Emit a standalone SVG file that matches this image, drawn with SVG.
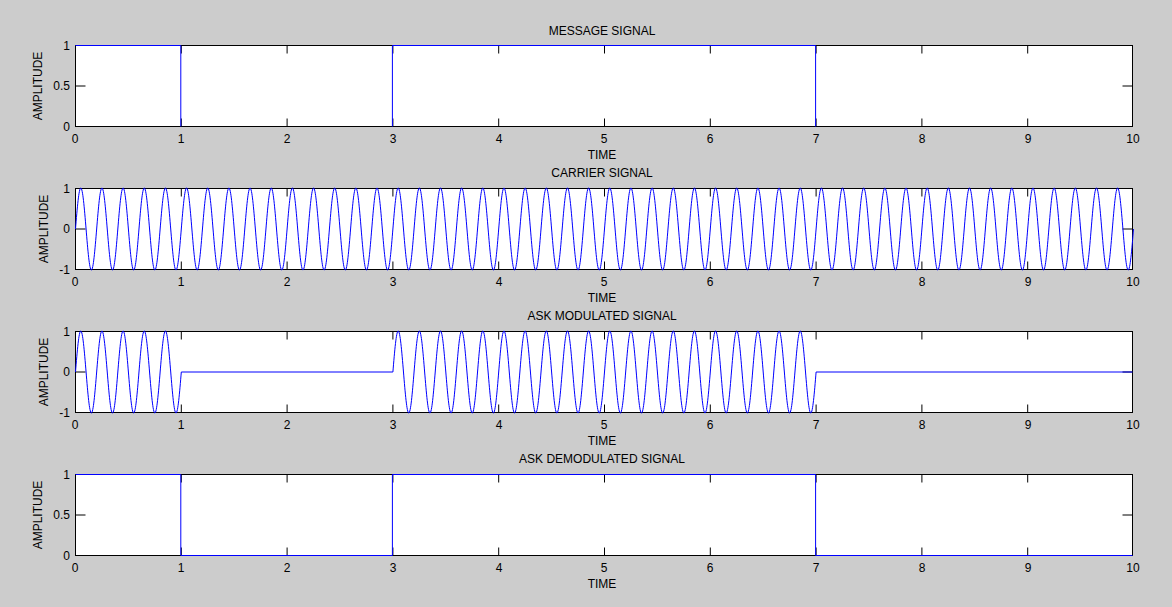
<svg xmlns="http://www.w3.org/2000/svg" xmlns:xlink="http://www.w3.org/1999/xlink" width="1172" height="607" viewBox="0 0 1172 607">
<style>
text{font-family:"Liberation Sans",Arial,sans-serif;font-size:12px;fill:#000}
.t{text-anchor:middle}
.yl{text-anchor:end}
.box{fill:#fff;stroke:#000;stroke-width:1}
.tk{stroke:#000;stroke-width:1;fill:none}
.sig{stroke:#00f;stroke-width:1;fill:none}
</style>
<defs>
<path id="cyc" d="M0,0 c1.725,-21 3.376,-41 5.29,-41 c1.914,0 3.565,20 5.29,41 c1.725,21 3.376,41 5.29,41 c1.914,0 3.565,-20 5.29,-41"/>
<g id="c5"><use xlink:href="#cyc"/><use xlink:href="#cyc" x="21.16"/><use xlink:href="#cyc" x="42.32"/><use xlink:href="#cyc" x="63.48"/><use xlink:href="#cyc" x="84.64"/></g>
<path id="xt" d="M75.5,0v-8M181.3,0v-8M287.1,0v-8M392.9,0v-8M498.7,0v-8M604.5,0v-8M710.3,0v-8M816.1,0v-8M921.9,0v-8M1027.7,0v-8M1132.5,0v-8"/>
<g id="xl"><text x="75" class="t">0</text><text x="181" class="t">1</text><text x="287" class="t">2</text><text x="393" class="t">3</text><text x="499" class="t">4</text><text x="604" class="t">5</text><text x="710" class="t">6</text><text x="816" class="t">7</text><text x="922" class="t">8</text><text x="1028" class="t">9</text><text x="1133" class="t">10</text></g>
</defs>
<rect width="1172" height="607" fill="#cccccc"/>

<g id="plot1">
<rect class="box" x="75.5" y="45.5" width="1057" height="81"/>
<g class="tk"><use xlink:href="#xt" y="126.5"/><use xlink:href="#xt" transform="translate(0,45.5) scale(1,-1)"/>
<path d="M75.5,45.5h10M75.5,86h10M75.5,126.5h10M1132.5,45.5h-10M1132.5,86h-10M1132.5,126.5h-10"/></g>
<path class="sig" d="M75.5,45.5H180.8V126.5M392.4,126.5V45.5H815.6V126.5"/>
<use xlink:href="#xl" y="143"/>
<text x="70" y="50" class="yl">1</text><text x="70" y="90" class="yl">0.5</text><text x="70" y="131" class="yl">0</text>
<text x="602" y="35" class="t">MESSAGE SIGNAL</text>
<text x="602" y="159" class="t">TIME</text>
<text transform="translate(42,86) rotate(-90)" class="t">AMPLITUDE</text>
</g>

<g id="plot2">
<rect class="box" x="75.5" y="188.5" width="1057" height="81"/>
<g class="tk"><use xlink:href="#xt" y="269.5"/><use xlink:href="#xt" transform="translate(0,188.5) scale(1,-1)"/>
<path d="M75.5,188.5h10M75.5,229h10M75.5,269.5h10M1132.5,188.5h-10M1132.5,229h-10M1132.5,269.5h-10"/></g>
<g class="sig" transform="translate(75.5,229)">
<use xlink:href="#c5"/><use xlink:href="#c5" x="105.8"/><use xlink:href="#c5" x="211.6"/><use xlink:href="#c5" x="317.4"/><use xlink:href="#c5" x="423.2"/><use xlink:href="#c5" x="529"/><use xlink:href="#c5" x="634.8"/><use xlink:href="#c5" x="740.6"/><use xlink:href="#c5" x="846.4"/><use xlink:href="#c5" x="952.2"/>
</g>
<use xlink:href="#xl" y="286"/>
<text x="70" y="193" class="yl">1</text><text x="70" y="233" class="yl">0</text><text x="70" y="274" class="yl">-1</text>
<text x="602" y="177" class="t">CARRIER SIGNAL</text>
<text x="602" y="302" class="t">TIME</text>
<text transform="translate(48,229) rotate(-90)" class="t">AMPLITUDE</text>
</g>

<g id="plot3">
<rect class="box" x="75.5" y="331.5" width="1057" height="81"/>
<g class="tk"><use xlink:href="#xt" y="412.5"/><use xlink:href="#xt" transform="translate(0,331.5) scale(1,-1)"/>
<path d="M75.5,331.5h10M75.5,372h10M75.5,412.5h10M1132.5,331.5h-10M1132.5,372h-10M1132.5,412.5h-10"/></g>
<g class="sig" transform="translate(75.5,372)">
<use xlink:href="#c5"/>
<path d="M105.8,0H317.4M740.6,0H1057"/>
<use xlink:href="#c5" x="317.4"/><use xlink:href="#c5" x="423.2"/><use xlink:href="#c5" x="529"/><use xlink:href="#c5" x="634.8"/>
</g>
<use xlink:href="#xl" y="429"/>
<text x="70" y="336" class="yl">1</text><text x="70" y="376" class="yl">0</text><text x="70" y="417" class="yl">-1</text>
<text x="602" y="320" class="t">ASK MODULATED SIGNAL</text>
<text x="602" y="445" class="t">TIME</text>
<text transform="translate(48,372) rotate(-90)" class="t">AMPLITUDE</text>
</g>

<g id="plot4">
<rect class="box" x="75.5" y="474.5" width="1057" height="81"/>
<g class="tk"><use xlink:href="#xt" y="555.5"/><use xlink:href="#xt" transform="translate(0,474.5) scale(1,-1)"/>
<path d="M75.5,474.5h10M75.5,515h10M75.5,555.5h10M1132.5,474.5h-10M1132.5,515h-10M1132.5,555.5h-10"/></g>
<path class="sig" d="M75.5,474.5H180.8V555.5H392.4V474.5H815.6V555.5H1132.5"/>
<use xlink:href="#xl" y="572"/>
<text x="70" y="479" class="yl">1</text><text x="70" y="519" class="yl">0.5</text><text x="70" y="560" class="yl">0</text>
<text x="602" y="463" class="t">ASK DEMODULATED SIGNAL</text>
<text x="602" y="588" class="t">TIME</text>
<text transform="translate(42,515) rotate(-90)" class="t">AMPLITUDE</text>
</g>
</svg>
